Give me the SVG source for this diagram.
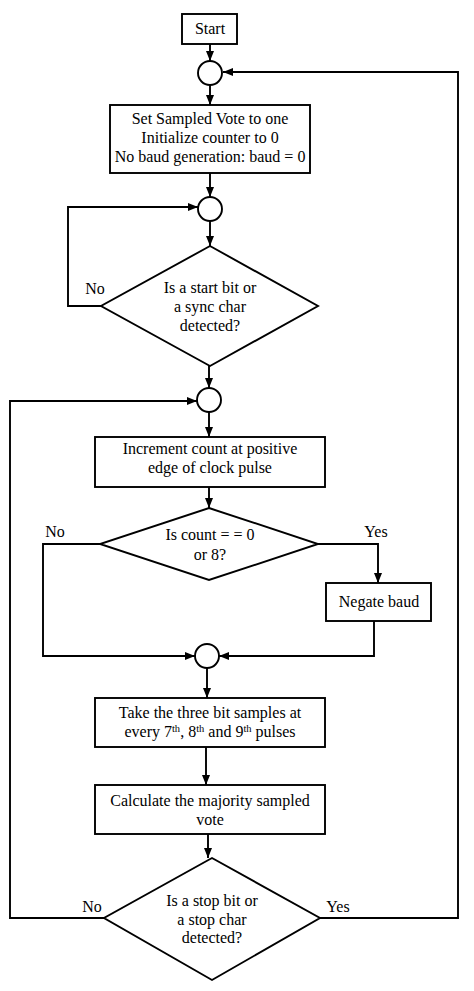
<svg xmlns="http://www.w3.org/2000/svg" width="474" height="991" viewBox="0 0 474 991">
<style>
.n{fill:#fff;stroke:#000;stroke-width:1.9}
.c{fill:none;stroke:#000;stroke-width:1.9}
text{font-family:"Liberation Serif","Times New Roman",serif;font-size:16px;fill:#000;text-anchor:middle}
.sup{font-size:10.5px}
</style>
<defs>
<marker id="a" markerUnits="userSpaceOnUse" markerWidth="10" markerHeight="10" viewBox="0 0 10 10" refX="10" refY="5" orient="auto">
<path d="M0,1 L10,5 L0,9 Z" fill="#000"/>
</marker>
</defs>
<rect width="474" height="991" fill="#fff"/>
<g id="connectors">
<line class="c" x1="210" y1="44" x2="210" y2="61" marker-end="url(#a)"/>
<polyline class="c" points="320,918 458,918 458,72 223,72" marker-end="url(#a)"/>
<line class="c" x1="210" y1="85" x2="210" y2="105" marker-end="url(#a)"/>
<line class="c" x1="210" y1="173" x2="210" y2="197" marker-end="url(#a)"/>
<polyline class="c" points="101,306 68,306 68,207 198,207" marker-end="url(#a)"/>
<line class="c" x1="210" y1="221" x2="210" y2="246" marker-end="url(#a)"/>
<line class="c" x1="209" y1="366" x2="209" y2="388" marker-end="url(#a)"/>
<polyline class="c" points="104,918 10,918 10,401 197,401" marker-end="url(#a)"/>
<line class="c" x1="209" y1="412" x2="209" y2="437" marker-end="url(#a)"/>
<line class="c" x1="209" y1="487" x2="209" y2="508" marker-end="url(#a)"/>
<polyline class="c" points="318,544 378,544 378,583" marker-end="url(#a)"/>
<polyline class="c" points="100,544 43,544 43,656 195,656" marker-end="url(#a)"/>
<polyline class="c" points="374,621 374,656 219,656" marker-end="url(#a)"/>
<line class="c" x1="207" y1="668" x2="207" y2="698" marker-end="url(#a)"/>
<line class="c" x1="206" y1="747" x2="206" y2="785" marker-end="url(#a)"/>
<line class="c" x1="208" y1="834" x2="208" y2="858" marker-end="url(#a)"/>
</g>
<g id="start"><rect class="n" x="182" y="14" width="55" height="30"/><text x="210" y="34">Start</text></g>
<g id="join1"><circle class="n" cx="210" cy="73" r="12"/></g>
<g id="init"><rect class="n" x="110" y="105" width="200" height="68"/>
<text x="210" y="124">Set Sampled Vote to one</text>
<text x="210" y="143">Initialize counter to 0</text>
<text x="210" y="162">No baud generation: baud = 0</text></g>
<g id="join2"><circle class="n" cx="210" cy="209" r="12"/></g>
<g id="startdetect"><polygon class="n" points="210,246 318,306 210,366 101,306"/>
<text x="210" y="293">Is a start bit or</text>
<text x="210" y="312">a sync char</text>
<text x="210" y="331">detected?</text></g>
<text x="95" y="294">No</text>
<g id="join3"><circle class="n" cx="209" cy="400" r="12"/></g>
<g id="increment"><rect class="n" x="95" y="437" width="230" height="50"/>
<text x="210" y="454">Increment count at positive</text>
<text x="210" y="473">edge of clock pulse</text></g>
<g id="countcheck"><polygon class="n" points="209,508 318,544 209,580 100,544"/>
<text x="210" y="540">Is count = = 0</text>
<text x="210" y="560">or 8?</text></g>
<text x="55" y="537">No</text>
<text x="376" y="537">Yes</text>
<g id="negate"><rect class="n" x="326" y="583" width="105" height="38"/><text x="379" y="607">Negate baud</text></g>
<g id="join4"><circle class="n" cx="207" cy="656" r="12"/></g>
<g id="samples"><rect class="n" x="95" y="698" width="230" height="49"/>
<text x="210" y="718">Take the three bit samples at</text>
<text x="210" y="737">every 7<tspan class="sup" dy="-5">th</tspan><tspan dy="5">, 8</tspan><tspan class="sup" dy="-5">th</tspan><tspan dy="5"> and 9</tspan><tspan class="sup" dy="-5">th</tspan><tspan dy="5"> pulses</tspan></text></g>
<g id="majority"><rect class="n" x="95" y="785" width="230" height="49"/>
<text x="210" y="806">Calculate the majority sampled</text>
<text x="210" y="825">vote</text></g>
<g id="stopdetect"><polygon class="n" points="212,858 320,918 212,980 104,918"/>
<text x="212" y="906">Is a stop bit or</text>
<text x="212" y="925">a stop char</text>
<text x="212" y="943">detected?</text></g>
<text x="92" y="912">No</text>
<text x="338" y="912">Yes</text>
</svg>
